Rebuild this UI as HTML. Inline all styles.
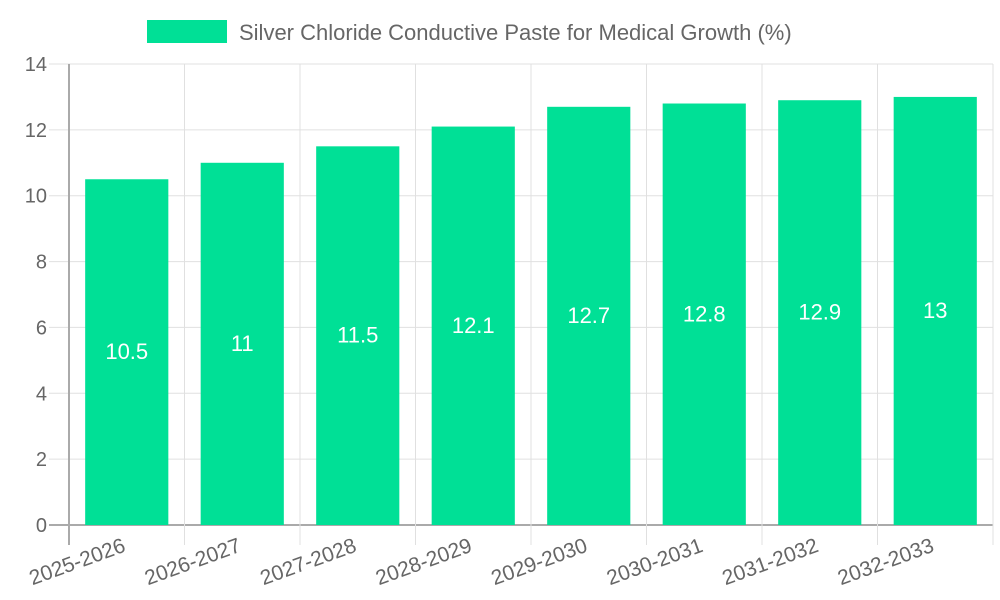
<!DOCTYPE html>
<html><head><meta charset="utf-8"><style>
body{margin:0;background:#fff;}
svg{display:block;font-family:"Liberation Sans",sans-serif;}
</style></head><body>
<svg id="chart" width="1000" height="600">
<g>
<rect x="147" y="20" width="80" height="23" fill="#00e096"/>
<text x="239" y="40" font-size="22" fill="#666">Silver Chloride Conductive Paste for Medical Growth (%)</text>
</g>
<g id="grid"></g><g id="bars"></g><g id="labels"></g>
</svg>
<script>
const categories=["2025-2026","2026-2027","2027-2028","2028-2029","2029-2030","2030-2031","2031-2032","2032-2033"];
const values=[10.5,11,11.5,12.1,12.7,12.8,12.9,13];
const yTicks=[0,2,4,6,8,10,12,14];
const NS="http://www.w3.org/2000/svg";
const L=69,R=993,T=64,B=525,yMax=14;
const bw=(R-L)/categories.length;
function y(v){return B-(v/yMax)*(B-T);}
function x(i){return L+bw*i;}
function mk(tag,attrs,parent){const e=document.createElementNS(NS,tag);for(const k in attrs)e.setAttribute(k,attrs[k]);parent.appendChild(e);return e;}
const grid=document.getElementById('grid'),bars=document.getElementById('bars'),labels=document.getElementById('labels');
yTicks.forEach(t=>{
 const ln=mk('line',{x1:L-20,x2:R,y1:y(t),y2:y(t),stroke:t===0?'#aaa':'#e0e0e0','stroke-width':t===0?2:1},grid);
 
 
 const tx=mk('text',{x:L-22,y:y(t)+7,'text-anchor':'end','font-size':20,fill:'#666'},grid);
 tx.textContent=t;
 
 
});
for(let i=0;i<=categories.length;i++){
 const ln=mk('line',{x1:x(i),x2:x(i),y1:T,y2:B+20,stroke:i===0?'#aaa':'#e0e0e0','stroke-width':i===0?2:1},grid);
 
 
}
categories.forEach((c,i)=>{
 const cx=x(i)+bw/2,w=bw*0.72;
 const r=mk('rect',{x:cx-w/2,y:y(values[i]),width:w,height:B-y(values[i]),fill:'#00e096'},bars);
 
 
 const v=mk('text',{x:cx,y:(y(values[i])+B)/2+7,'text-anchor':'middle','font-size':22,fill:'#fff'},labels);
 v.textContent=values[i];
 
 
 const xl=mk('text',{x:cx,y:B+26,'text-anchor':'end','font-size':21,fill:'#666',transform:`rotate(-20 ${cx} ${B+26})`},labels);
 xl.textContent=c;
 
 
});
</script>
</body></html>
